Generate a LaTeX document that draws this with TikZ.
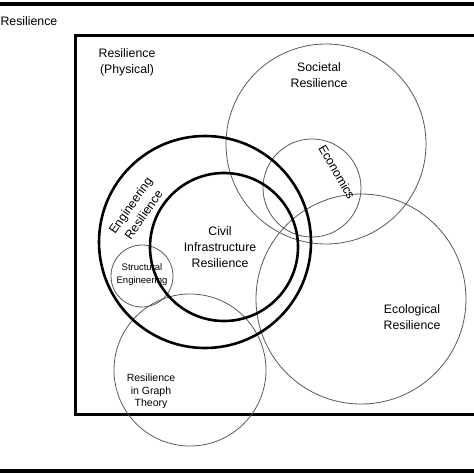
\documentclass[tikz,border=0pt]{standalone}
\usepackage{fontspec}
\setmainfont{Liberation Sans}
\begin{document}
\begin{tikzpicture}[x=1pt,y=-1pt,
  every node/.style={align=center,font=\fontsize{12.3}{16}\selectfont},
  ring/.style={draw=black!65,line width=0.8pt,circle,inner sep=0pt},
  core/.style={draw=black,line width=2.6pt,circle,inner sep=0pt}]
\useasboundingbox (0,0) rectangle (474,474);
% frames
\draw[line width=4pt] (-10,4) rectangle (490,471);
\draw[line width=3pt] (75,35) rectangle (490,414);
\node[anchor=west] (res) at (-3,21) {Resilience};
\node (phys) at (127,62) {Resilience\\(Physical)};
% thin circles
\node[ring,minimum size=200] (soc) at (326,144) {};
\node[ring,minimum size=98] (eco) at (312,188) {};
\node[ring,minimum size=210] (ecol) at (361,299) {};
\node[ring,minimum size=152] (graph) at (190,370) {};
\node[ring,minimum size=62] (struct) at (142,276) {};
% thick circles
\node[core,minimum size=212] (eng) at (205,242) {};
\node[core,minimum size=148] (civil) at (224,247) {};
% labels
\node (soclab) at (319,75) {Societal\\Resilience};
\node[rotate=-60] (ecolab) at (337,172) {Economics};
\node[rotate=55] (englab) at (137,210) {Engineering\\Resilience};
\node (civlab) at (220,247) {Civil\\Infrastructure\\Resilience};
\node[font=\fontsize{9.5}{13}\selectfont] (structlab) at (142,274.5) {Structural\\Engineering};
\node (ecollab) at (412,317) {Ecological\\Resilience};
\node[font=\fontsize{10.5}{12.5}\selectfont] (graphlab) at (151,391.5) {Resilience\\in Graph\\Theory};
\end{tikzpicture}
\end{document}
